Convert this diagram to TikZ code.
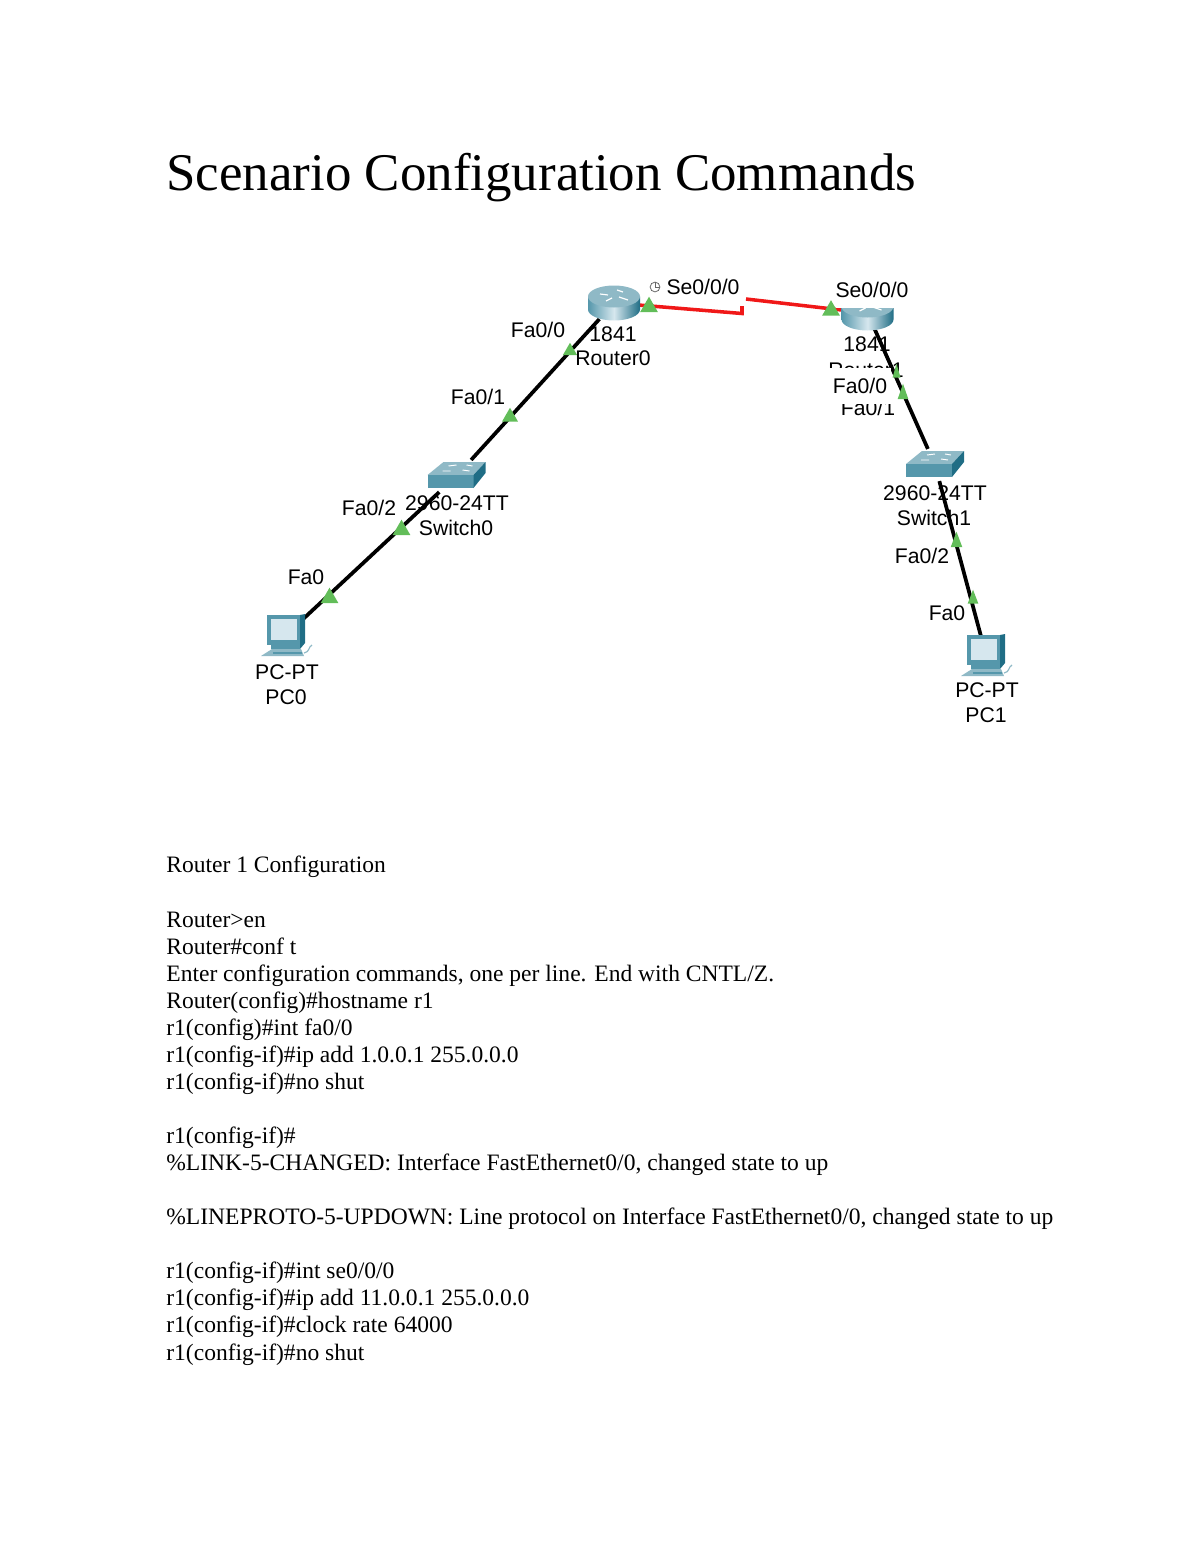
\documentclass[tikz,border=0pt]{standalone}
\usepackage{fontspec}
\setmainfont{Liberation Serif}
\newfontfamily\labelfont{Liberation Sans}
\usetikzlibrary{backgrounds,positioning,shapes.geometric}
\definecolor{linkgreen}{HTML}{62BD59}
\definecolor{linkred}{HTML}{F01818}
\definecolor{iconlight}{HTML}{8FB9C6}
\definecolor{iconmid}{HTML}{5597AB}
\definecolor{icondark}{HTML}{1F6D85}
\definecolor{iconpale}{HTML}{D6E7EE}
\tikzset{
  title/.style={anchor=west, inner sep=0pt, font=\fontsize{27}{32}\selectfont},
  console/.style={anchor=north west, inner sep=0pt, align=left, font=\fontsize{12}{13.8}\selectfont},
  device/.style={inner sep=0pt, minimum width=20pt, minimum height=16pt},
  devlabel/.style={inner sep=0pt, text=black, font=\labelfont\fontsize{10.8}{12}\selectfont},
  iflabel/.style={devlabel},
  ifbox/.style={devlabel, fill=white},
  cable/.style={line width=1.9pt, black},
  serial/.style={line width=1.8pt, linkred},
  linkmark/.style={regular polygon, regular polygon sides=3, draw=none, fill=linkgreen,
    inner sep=0pt, minimum size=10.5pt},
  clockmark/.style={circle, draw=black!60, line width=.4pt, inner sep=0pt, minimum size=5pt},
  routericon/.pic={
    \draw[draw=none, left color=iconmid, right color=icondark, middle color=iconpale]
      (-26,-6.5) -- (-26,6.5) arc[start angle=180, end angle=0, x radius=26, y radius=11]
      -- (26,-6.5) -- cycle;
    \fill[iconlight] (0,-6.5) ellipse[x radius=26, y radius=11];
    \draw[white, line width=.6pt] (-14,-9) -- (-6,-8) (3,-13) -- (9,-11) (-8,-2) -- (-2,-5) (5,-6) -- (14,-3);
  },
  switchicon/.pic={
    \fill[iconlight] (-29,-1) -- (-13,-14) -- (29,-14) -- (17,-1) -- cycle;
    \fill[iconmid] (-29,-1) rectangle (17,12);
    \fill[icondark] (17,-1) -- (29,-14) -- (29,-3) -- (17,12) -- cycle;
    \draw[white, line width=.5pt] (-8,-10) -- (0,-11) (10,-11) -- (16,-10) (-14,-5) -- (-6,-5) (6,-6) -- (13,-5);
  },
  pcicon/.pic={
    \fill[iconmid] (-19,-20) rectangle (14,10);
    \fill[icondark] (14,-20) -- (19,-21) -- (19,8) -- (14,14) -- cycle;
    \fill[iconpale] (-15,-16) rectangle (11,5);
    \fill[iconmid] (-15,10) rectangle (14,14);
    \fill[iconlight] (-14,14) -- (15,14) -- (18,21) -- (-25,21) -- cycle;
    \fill[iconmid] (-13,17) rectangle (16,19);
    \draw[iconlight, line width=.6pt] (18,18) .. controls (24,17) and (22,12) .. (26,10);
  },
}
\begin{document}
\begin{tikzpicture}[x=.51pt, y=-.51pt]
\useasboundingbox (0,0) rectangle (1200,1553);

\node[title] (heading) at (166,178) {Scenario Configuration Commands};

% Devices
\node[device] (router0) at (614,303) {};
\node[device] (router1) at (867.5,313) {};
\node[device] (switch0) at (456.5,476) {};
\node[device] (switch1) at (935,465) {};
\node[device] (pc0) at (286,635) {};
\node[device] (pc1) at (986,655) {};
\coordinate (breakleft) at (742,313.5);
\coordinate (breakhook) at (742,306);
\coordinate (breakright) at (746,299);

\pic at (router0) {routericon};
\pic at (router1) {routericon};
\pic at (switch0) {switchicon};
\pic at (switch1) {switchicon};
\pic at (pc0) {pcicon};
\pic at (pc1) {pcicon};

% Device names and links
\begin{scope}[on background layer]
\node[devlabel] (model0) at (613,334) {1841};
\node[devlabel] (name0) at (613,358) {Router0};
\node[devlabel] (model1) at (867,344) {1841};
\node[devlabel] (name1) at (866,370) {Router1};
\node[devlabel] (modelsw0) at (457,503) {2960-24TT};
\node[devlabel] (namesw0) at (456,528) {Switch0};
\node[devlabel] (modelsw1) at (935,493) {2960-24TT};
\node[devlabel] (namesw1) at (934,518) {Switch1};
\node[devlabel] (modelpc0) at (287,672) {PC-PT};
\node[devlabel] (namepc0) at (286,697) {PC0};
\node[devlabel] (modelpc1) at (987,690) {PC-PT};
\node[devlabel] (namepc1) at (986,715) {PC1};

\draw[cable] (router0) -- (switch0);
\draw[cable] (switch0) -- (pc0);
\draw[cable] (router1) -- (switch1);
\draw[cable] (switch1) -- (pc1);
\draw[serial] (router0) -- (breakleft) -- (breakhook);
\draw[serial] (breakright) -- (router1);
\end{scope}

% Interface names
\node[iflabel] (fa00r0) at (538,330) {Fa0/0};
\node[iflabel] (fa01sw0) at (478,397) {Fa0/1};
\node[iflabel] (fa02sw0) at (369,508) {Fa0/2};
\node[iflabel] (fa0pc0) at (306,577) {Fa0};
\node[iflabel] (se0) at (703,287) {Se0/0/0};
\node[ifbox, minimum height=18pt] (se1) at (872,290) {Se0/0/0};
\node[iflabel] (fa01sw1) at (868,408) {Fa0/1};
\node[ifbox, minimum height=18pt, minimum width=32pt] (fa00r1) at (860,386) {Fa0/0};
\node[iflabel] (fa02sw1) at (922,556) {Fa0/2};
\node[iflabel] (fa0pc1) at (947,613) {Fa0};

\node[clockmark] (clock) at (655,287) {};
\draw[black!60, line width=.3pt] (clock.center) -- (clock.north) (clock.center) -- (clock.east);

% Link lights
\node[linkmark] (lightr0) at (649,307) {};
\node[linkmark] (lightr1) at (831,310.5) {};
\node[linkmark, scale=.8] (lightfa00) at (570,351) {};
\node[linkmark, scale=.9] (lightfa01) at (510,417) {};
\node[linkmark] (lightfa02) at (401.5,530) {};
\node[linkmark] (lightfa0) at (329.5,598) {};
\node[linkmark, xscale=.45, yscale=.9] (lightr1b) at (896.5,373) {};
\node[linkmark, xscale=.6] (lightsw1a) at (903,394) {};
\node[linkmark, xscale=.65] (lightsw1b) at (956.5,542) {};
\node[linkmark, xscale=.6, yscale=.9] (lightpc1) at (973,599) {};

% Console text
\node[console] (consolelog) at (166,856) {Router 1 Configuration\\
~\\
Router>en\\
Router\#conf t\\
Enter configuration commands, one per line. End with CNTL/Z.\\
Router(config)\#hostname r1\\
r1(config)\#int fa0/0\\
r1(config-if)\#ip add 1.0.0.1 255.0.0.0\\
r1(config-if)\#no shut\\
~\\
r1(config-if)\#\\
\%LINK-5-CHANGED: Interface FastEthernet0/0, changed state to up\\
~\\
\%LINEPROTO-5-UPDOWN: Line protocol on Interface FastEthernet0/0, changed state to up\\
~\\
r1(config-if)\#int se0/0/0\\
r1(config-if)\#ip add 11.0.0.1 255.0.0.0\\
r1(config-if)\#clock rate 64000\\
r1(config-if)\#no shut};

\end{tikzpicture}
\end{document}
